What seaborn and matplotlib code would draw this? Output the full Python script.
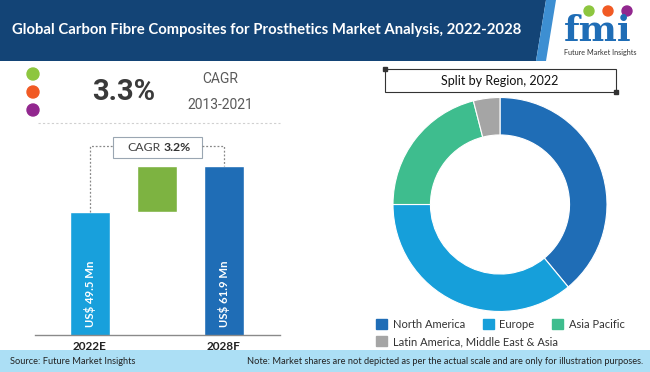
import numpy as np
import pandas as pd
import seaborn as sns
import matplotlib.pyplot as plt
from matplotlib.patches import Rectangle, Polygon, Circle
from matplotlib.lines import Line2D

periods = ["2022E", "CAGR", "2028F"]
value_years = ["2022E", "2028F"]
market_value = [49.5, 61.9]  ## US$ Mn
cagr_hist = "3.3%"
cagr_hist_period = "2013-2021"
cagr_fcst = "3.2%"

regions = ["North America", "Europe", "Asia Pacific", "Latin America, Middle East & Asia"]
region_share = [39, 36, 21, 4]
region_colors = ["#1f6db6", "#169fda", "#3ebd8e", "#a5a5a5"]

bar_colors = ["#18a0dc", "#1f6db6"]
growth_color = "#7db341"

W, H = 650, 372
sns.set_theme(style="white")
plt.rcParams['font.family'] = ['Lato', 'DejaVu Sans']

fig = plt.figure(figsize=(W / 100, H / 100), dpi=100)


def px_box(x0, y0, x1, y1):
    ## pixel box (top-left origin) -> figure fraction rect
    return [x0 / W, 1 - y1 / H, (x1 - x0) / W, (y1 - y0) / H]


## background layer for header / footer / ornaments
bg = fig.add_axes([0, 0, 1, 1], zorder=0)
bg.set_xlim(0, W)
bg.set_ylim(H, 0)
bg.axis('off')

bg.add_patch(Polygon([(0, 0), (546, 0), (536, 61), (0, 61)], color="#134476", lw=0))
bg.add_patch(Polygon([(546, 0), (556, 0), (546, 61), (536, 61)], color="#3d8fd2", lw=0))
bg.text(12, 30, "Global Carbon Fibre Composites for Prosthetics Market Analysis, 2022-2028",
        color="white", fontsize=10.75, fontweight="bold", va="center", ha="left")

## fmi logo, roughly
bg.text(598, 48, "fmi", color="#1f6db6", fontsize=26, fontweight="bold",
        family="DejaVu Serif", ha="center", va="bottom")
for yy in range(20, 46, 4):
    bg.plot([555, 642], [yy, yy], color="white", lw=0.6)
for xx, c in zip([589, 608, 627], ["#8dc63f", "#f15a24", "#92278f"]):
    bg.add_patch(Circle((xx, 11), 5, color=c))
bg.text(600, 48.5, "Future Market Insights", color="#333333", fontsize=5.2, ha="center", va="top")

## footer
bg.add_patch(Rectangle((0, 350), W, 22, color="#acdff5", lw=0))
bg.text(10, 361, "Source: Future Market Insights", fontsize=6.7, color="#222222", va="center")
bg.text(643, 361, "Note: Market shares are not depicted as per the actual scale and are only for illustration purposes.",
        fontsize=6.7, color="#222222", va="center", ha="right")

## CAGR history block
for yy, c in zip([74, 92, 110], ["#8dc63f", "#f15a24", "#92278f"]):
    bg.add_patch(Circle((33, yy), 6, color=c))
bg.text(124, 92, cagr_hist, fontsize=21, fontweight="bold", color="#3a3a3a",
        family="Roboto", ha="center", va="center")
bg.text(220, 79, "CAGR", fontsize=10, color="#5a5a5a", family="Roboto", ha="center", va="center")
bg.text(220, 105, cagr_hist_period, fontsize=10, color="#5a5a5a", family="Roboto", ha="center", va="center")
bg.plot([38, 280], [123, 123], color="#d0d0d0", lw=0.8, ls=(0, (2, 2)))

## region title box
bg.add_patch(Rectangle((385, 69), 231, 23, fill=False, ec="#333333", lw=0.8))
bg.add_patch(Rectangle((383, 67), 4, 4, color="#333333"))
bg.add_patch(Rectangle((614, 90), 4, 4, color="#333333"))
bg.text(500, 81, "Split by Region, 2022", fontsize=9, color="#111111", ha="center", va="center")

## waterfall bars
ax = fig.add_axes(px_box(35, 130, 280, 335), zorder=2)
ax.patch.set_alpha(0)
df_val = pd.DataFrame({"period": value_years, "value": market_value})
sns.barplot(data=df_val, x="period", y="value", hue="period", order=periods,
            palette=bar_colors, width=0.6, saturation=1, legend=False, ax=ax)
df_growth = pd.DataFrame({"period": ["CAGR"], "growth": [market_value[1] - market_value[0]]})
sns.barplot(data=df_growth, x="period", y="growth", order=periods, color=growth_color,
            width=0.6, saturation=1, bottom=market_value[0], ax=ax)

ax.set_ylim(16.3, 71.6)
ax.set_xlim(-0.82, 2.84)
ax.set_xlabel("")
ax.set_ylabel("")
ax.set_yticks([])
ax.set_xticks([0, 1, 2])
ax.set_xticklabels(["2022E", "", "2028F"], fontsize=8.5, fontweight="bold", color="#222222")
ax.tick_params(axis="x", length=0, pad=4)
for s in ["top", "left", "right"]:
    ax.spines[s].set_visible(False)
ax.spines["bottom"].set_color("#8a8a8a")
ax.spines["bottom"].set_linewidth(1)

for i, v in zip([0, 2], market_value):
    ax.annotate(f"US$ {v} Mn", xy=(i, 16.3), xytext=(0, 8), textcoords="offset pixels",
                rotation=90, ha="center", va="bottom", color="white",
                fontsize=8.2, fontweight="bold")

## CAGR connector
y_conn = 67.3
ax.plot([0, 0, 0.34], [market_value[0], y_conn, y_conn], color="#888888", lw=0.9,
        ls=(0, (1.5, 1.5)), clip_on=False)
ax.plot([1.67, 2, 2], [y_conn, y_conn, market_value[1]], color="#888888", lw=0.9,
        ls=(0, (1.5, 1.5)), clip_on=False)
ax.add_patch(Rectangle((0.34, 64.1), 1.33, 5.6, fill=False, ec="#9aa6b2", lw=0.8, clip_on=False))
ax.text(1.06, 66.9, "CAGR", ha="right", va="center", fontsize=8.8, color="#444444")
ax.text(1.10, 66.9, cagr_fcst, ha="left", va="center", fontsize=8.8, color="#333333", fontweight="bold")

## donut
dax = fig.add_axes(px_box(393, 97.5, 607, 311.5), zorder=2)
dax.pie(region_share, colors=region_colors, startangle=90, counterclock=False,
        wedgeprops=dict(width=0.35, edgecolor="white", linewidth=0.8))
dax.set_xlim(-1, 1)
dax.set_ylim(-1, 1)
dax.set_aspect("equal")

handles = [Rectangle((0, 0), 1, 1, color=c) for c in region_colors]
leg_kw = dict(frameon=False, fontsize=8, handlelength=1, handleheight=1,
              handletextpad=0.5, borderpad=0, borderaxespad=0, labelcolor="#333333")
fig.legend(handles[:3], regions[:3], ncol=3, loc="upper left", columnspacing=1.6,
           bbox_to_anchor=(376 / W, 1 - 319 / H), **leg_kw)
fig.legend(handles[3:], regions[3:], ncol=1, loc="upper left",
           bbox_to_anchor=(376 / W, 1 - 336 / H), **leg_kw)

fig.savefig("out.png", dpi=100)
